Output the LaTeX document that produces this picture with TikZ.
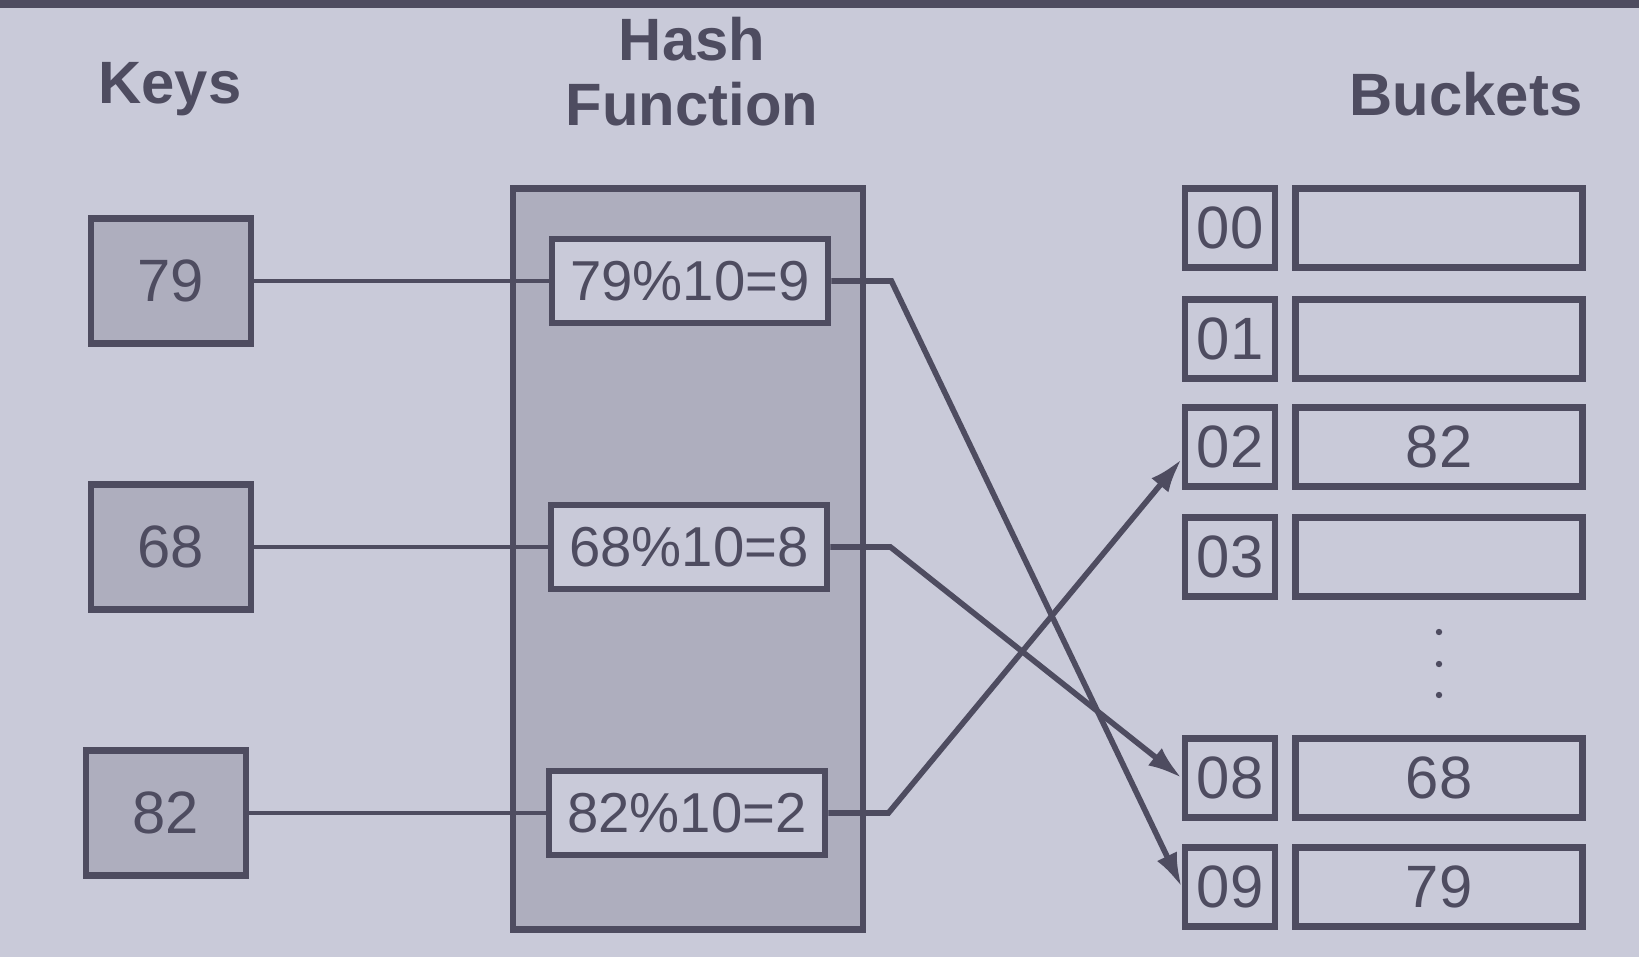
\documentclass[tikz,border=0pt]{standalone}
\usepackage{fontspec}
\setmainfont{Liberation Sans}
\usetikzlibrary{arrows.meta,positioning}
\definecolor{paper}{RGB}{201,202,217}
\definecolor{ink}{RGB}{78,76,96}
\definecolor{shade}{RGB}{174,174,190}

\begin{document}
\begin{tikzpicture}[x=0.01cm, y=-0.01cm,
    box/.style={rectangle, draw=ink, line width=1.9pt, text=ink, font=\fontsize{17}{20}\selectfont},
    keybox/.style={box, fill=shade, minimum width=1.60cm, minimum height=1.25cm},
    hashbox/.style={box, fill=paper, minimum width=2.76cm, minimum height=0.84cm, font=\fontsize{16}{19}\selectfont},
    idxbox/.style={box, fill=paper, minimum width=0.87cm, minimum height=0.79cm},
    valbox/.style={box, fill=paper, minimum width=2.87cm, minimum height=0.79cm},
    title/.style={text=ink, font=\bfseries\fontsize{17}{18.5}\selectfont, align=center},
    link/.style={draw=ink, line width=1.2pt},
    hashlink/.style={draw=ink, line width=1.6pt, -{Latex[length=0.34cm, width=0.22cm]}}
]
    % page and top edge
    \fill[paper] (0,0) rectangle (1639,957);
    \useasboundingbox (0,0) rectangle (1639,957);
    \fill[ink] (0,0) rectangle (1639,8);

    % titles
    \node (keys) [title] at (170,89) {Keys};
    \node (func) [title] at (692,72) {Hash\\Function};
    \node (bkts) [title] at (1466,94) {Buckets};

    % keys
    \node (k79) [keybox] at (171,281) {79};
    \node (k68) [keybox] at (171,547) {68};
    \node (k82) [keybox] at (166,813) {82};

    % hash function
    \node (hashfn) [rectangle, draw=ink, line width=1.9pt, fill=shade, minimum width=3.50cm, minimum height=7.40cm] at (688,559) {};
    \node (h79) [hashbox] at (690,281) {79\%10=9};
    \node (h68) [hashbox] at (689,547) {68\%10=8};
    \node (h82) [hashbox] at (687,813) {82\%10=2};

    % buckets
    \foreach \idx/\val/\y in {00//228, 01//339, 02/82/447, 03//557, 08/68/778, 09/79/887} {
        \node (b\idx) [idxbox] at (1230,\y) {\idx};
        \node (v\idx) [valbox] at (1439,\y) {\val};
    }
    \foreach \y in {632,664,695}
        \fill[ink] (1439,\y) circle (3.2);

    % connectors
    \draw[link] (k79) -- (h79);
    \draw[link] (k68) -- (h68);
    \draw[link] (k82) -- (h82);
    \draw[hashlink] (h79.east) -- ++(60,0) -- (b09.west);
    \draw[hashlink] (h68.east) -- ++(60,0) -- (b08.west);
    \draw[hashlink] (h82.east) -- ++(60,0) -- ([yshift=-0.12cm]b02.west);
\end{tikzpicture}
\end{document}
